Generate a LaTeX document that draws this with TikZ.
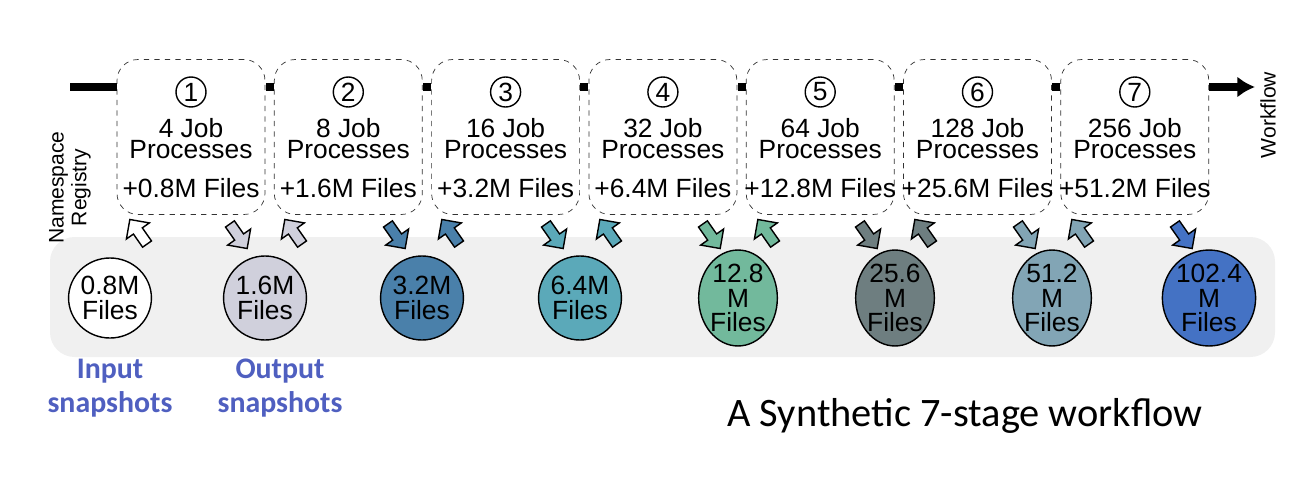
\documentclass[tikz,border=0pt]{standalone}
\usepackage{fontspec}
\setmainfont{Liberation Sans}
\newfontfamily\carlfont{Carlito}
\usetikzlibrary{shapes.arrows,shapes.geometric,arrows.meta}
\definecolor{c1}{HTML}{FFFFFF}
\definecolor{c2}{HTML}{D0D0DC}
\definecolor{c3}{HTML}{4A80AA}
\definecolor{c4}{HTML}{5BA9B9}
\definecolor{c5}{HTML}{72B99C}
\definecolor{c6}{HTML}{6E7E80}
\definecolor{c7}{HTML}{82A5B5}
\definecolor{c8}{HTML}{4472C4}
\definecolor{lbl}{HTML}{4F5FC0}
\begin{document}
\begin{tikzpicture}[x=0.02cm,y=-0.02cm,
  stage/.style={draw=black!80,dashed,rounded corners=12pt,minimum width=148*0.02cm,minimum height=155*0.02cm,inner sep=0pt},
  num/.style={circle,draw,thick,fill=white,minimum size=30*0.02cm,inner sep=0pt,font=\fontsize{15}{15}\selectfont},
  txt/.style={font=\fontsize{15}{12}\selectfont,align=center},
  snap/.style={ellipse,draw,thick,minimum width=76*0.02cm,minimum height=88*0.02cm,inner sep=0pt,font=\fontsize{15}{14}\selectfont,align=center},
  blk/.style={single arrow,draw,thick,minimum height=30*0.02cm,minimum width=28*0.02cm,single arrow head extend=3pt,inner sep=1.5pt},
  lab/.style={font=\carlfont\bfseries\fontsize{17}{19}\selectfont,text=lbl,align=center}]
\useasboundingbox (0,0) rectangle (1312,497);
\fill[black!6,rounded corners=14pt] (50,237) rectangle (1275,357);
\coordinate (start) at (70,87);
\coordinate (end) at (1255,87);
\foreach \i/\n/\f in {1/4/0.8,2/8/1.6,3/16/3.2,4/32/6.4,5/64/12.8,6/128/25.6,7/256/51.2}{
  \node[stage] (s\i) at ({191+157.3*(\i-1)},137) {};
  \node[num] (n\i) at ({191+157.3*(\i-1)},92) {\i};
  \node[txt] (t\i) at ({191+157.3*(\i-1)},139) {\n\ Job\\Processes};
  \node[txt] (f\i) at ({191+157.3*(\i-1)},188) {+\f M Files};
}
\draw[line width=4pt] (start) -- (s1.west |- start);
\draw[line width=4pt,-{Latex[length=10pt,width=12pt]}] (s7.east |- end) -- (end);
\foreach \a/\b in {1/2,2/3,3/4,4/5,5/6,6/7}{
  \path (s\a.east |- start) -- coordinate[midway] (g\a) (s\b.west |- start);
  \fill (g\a) ++(-4,-4) rectangle ++(8,8);
}
\node[snap,fill=c1,minimum width=80*0.02cm,minimum height=80*0.02cm] (p1) at (110,298) {0.8M\\Files};
\node[snap,fill=c2,minimum width=80*0.02cm,minimum height=84*0.02cm] (p2) at (265,298) {1.6M\\Files};
\node[snap,fill=c3,minimum width=80*0.02cm,minimum height=84*0.02cm] (p3) at (422,298) {3.2M\\Files};
\node[snap,fill=c4,minimum width=80*0.02cm,minimum height=84*0.02cm] (p4) at (580,298) {6.4M\\Files};
\node[snap,fill=c5] (p5) at (738,298) {12.8\\M\\Files};
\node[snap,fill=c6] (p6) at (895,298) {25.6\\M\\Files};
\node[snap,fill=c7] (p7) at (1052,298) {51.2\\M\\Files};
\node[snap,fill=c8] (p8) at (1209,298) {102.4\\M\\Files};
\foreach \x/\c in {140/c1,295/c2,452/c3,610/c4,768/c5,925/c6,1082/c7}{
  \node[blk,fill=\c,rotate=125] at (\x,234) {};
}
\foreach \x/\c in {237/c2,395/c3,553/c4,710/c5,867/c6,1025/c7,1182/c8}{
  \node[blk,fill=\c,rotate=-55] at (\x,234) {};
}
\node[rotate=90,font=\fontsize{12}{13}\selectfont,align=center,anchor=west] (reg) at (70,250) {Namespace\\Registry};
\node[rotate=90,font=\fontsize{12}{12}\selectfont,anchor=center] (wf) at (1268,115) {Workflow};
\node[lab] (in) at (110,388) {Input\\snapshots};
\node[lab] (out) at (280,388) {Output\\snapshots};
\node[font=\carlfont\fontsize{23}{23}\selectfont] (title) at (965,416) {A Synthetic 7-stage workflow};
\end{tikzpicture}
\end{document}
